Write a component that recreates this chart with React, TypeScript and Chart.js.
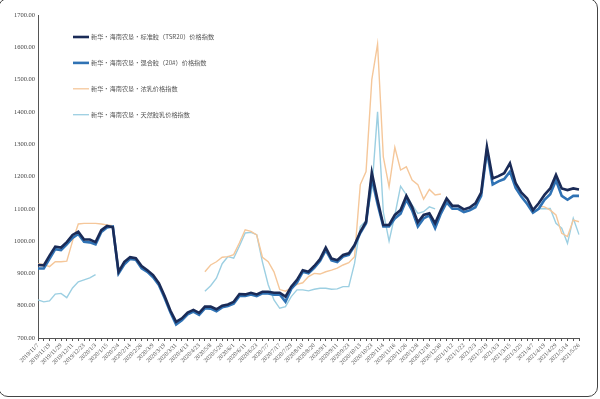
import React, { useEffect, useRef } from 'react';
import { Chart, registerables } from 'chart.js';

Chart.register(...registerables);

// Tick labels (every 8 trading days)
const tickDates: string[] = [
  '2019/11/7', '2019/11/19', '2019/11/29', '2019/12/11', '2019/12/23', '2020/1/3', '2020/1/15', '2020/2/4',
  '2020/2/14', '2020/2/26', '2020/3/9', '2020/3/19', '2020/3/31', '2020/4/13', '2020/4/23', '2020/5/8',
  '2020/5/20', '2020/6/1', '2020/6/11', '2020/6/23', '2020/7/7', '2020/7/17', '2020/7/29', '2020/8/10',
  '2020/8/20', '2020/9/1', '2020/9/11', '2020/9/23', '2020/10/13', '2020/10/23', '2020/11/4', '2020/11/16',
  '2020/11/26', '2020/12/8', '2020/12/18', '2020/12/30', '2021/1/12', '2021/1/22', '2021/2/3', '2021/2/19',
  '2021/3/3', '2021/3/15', '2021/3/25', '2021/4/7', '2021/4/19', '2021/4/29', '2021/5/14', '2021/5/26',
];

const seriesNames: string[] = [
  '新华·海南农垦·标准胶（TSR20）价格指数',
  '新华·海南农垦·混合胶（20#）价格指数',
  '新华·海南农垦·浓乳价格指数',
  '新华·海南农垦·天然胶乳价格指数',
];

// Sampled every 4 trading days (two samples per tick interval)
const tsr20: (number | null)[] = [
  926, 925, 955, 983, 980, 997, 1019, 1029, 1005, 1005,
  997, 1034, 1047, 1043, 905, 936, 950, 947, 923, 910,
  895, 870, 830, 785, 750, 761, 779, 787, 778, 797,
  797, 789, 800, 804, 812, 836, 835, 840, 835, 843,
  843, 840, 840, 828, 859, 880, 910, 905, 923, 944,
  980, 946, 941, 957, 962, 988, 1029, 1060, 1212, 1127,
  1050, 1050, 1081, 1096, 1140, 1106, 1058, 1081, 1086, 1055,
  1096, 1132, 1109, 1109, 1098, 1104, 1117, 1150, 1292, 1194,
  1201, 1210, 1241, 1179, 1150, 1132, 1096, 1117, 1143, 1163,
  1205, 1163, 1158, 1163, 1160,
];

const mix20: (number | null)[] = [
  915, 915, 945, 975, 972, 990, 1010, 1022, 998, 996,
  990, 1028, 1042, 1045, 900, 928, 945, 942, 916, 905,
  888, 864, 824, 780, 742, 755, 773, 782, 772, 792,
  791, 783, 795, 799, 806, 830, 830, 835, 830, 838,
  838, 834, 835, 812, 852, 872, 905, 900, 917, 938,
  972, 940, 935, 952, 957, 985, 1025, 1055, 1195, 1115,
  1045, 1045, 1070, 1085, 1128, 1095, 1045, 1070, 1080, 1040,
  1085, 1120, 1100, 1100, 1090, 1095, 1105, 1140, 1280, 1175,
  1185, 1192, 1215, 1165, 1137, 1115, 1088, 1100, 1128, 1145,
  1188, 1140, 1128, 1140, 1140,
];

const latex: (number | null)[] = [
  930, 928, 921, 936, 936, 938, 1000, 1053, 1055, 1055,
  1055, 1053, 1050, 1048, null, null, null, null, null, null,
  null, null, null, null, null, null, null, null, null, 905,
  926, 936, 950, 952, 958, 995, 1035, 1030, 1019, 950,
  936, 905, 850, 845, 855, 866, 871, 890, 900, 898,
  905, 910, 916, 926, 933, 952, 1175, 1215, 1500, 1610,
  1261, 1168, 1290, 1220, 1230, 1189, 1175, 1130, 1160, 1143,
  1146, null, null, null, null, null, null, null, null, null,
  null, null, null, null, null, null, null, 1108, 1106, 1096,
  1081, 1024, 1014, 1065, 1060,
];

const natLatex: (number | null)[] = [
  818, 812, 815, 836, 838, 825, 855, 874, 880, 886,
  896, null, null, null, null, null, null, null, null, null,
  null, null, null, null, null, null, null, null, null, 845,
  862, 885, 930, 952, 947, 985, 1025, 1027, 1020, 935,
  865, 818, 792, 797, 828, 849, 849, 846, 851, 854,
  854, 851, 852, 859, 859, 931, 1045, 1063, 1158, 1400,
  1090, 1000, 1080, 1170, 1143, 1112, 1086, 1091, 1106, 1100,
  null, null, null, null, null, null, null, null, null, null,
  null, null, null, null, null, null, null, 1100, 1100, 1101,
  1055, 1040, 993, 1071, 1020,
];

const yMin = 700;
const yMax = 1700;
const yStep = 100;

const colors = ['#1a2b57', '#2f72b4', '#f5c79a', '#9ccfe2'];
const widths = [2.6, 2.6, 1.4, 1.4];

// categories: tick date followed by an intermediate sample
const categories: string[] = [];
tickDates.forEach((d, i) => {
  categories.push(d);
  if (i < tickDates.length - 1) categories.push('');
});

const legendPlugin = {
  id: 'insideLegend',
  afterDraw(chart: any) {
    const { ctx, chartArea } = chart;
    ctx.save();
    chart.data.datasets.forEach((ds: any, i: number) => {
      const y = chartArea.top + 22 + i * 25.9;
      const x0 = chartArea.left + 35;
      ctx.strokeStyle = ds.borderColor;
      ctx.lineWidth = i < 2 ? 2.6 : 1.3;
      ctx.beginPath();
      ctx.moveTo(x0, y);
      ctx.lineTo(x0 + 16, y);
      ctx.stroke();
      ctx.fillStyle = '#555';
      ctx.font = '6.2px "Noto Sans CJK SC"';
      ctx.textBaseline = 'middle';
      ctx.textAlign = 'left';
      ctx.fillText(ds.label, x0 + 18, y);
    });
    ctx.restore();
  },
};

export default function App() {
  const canvasRef = useRef<HTMLCanvasElement | null>(null);

  useEffect(() => {
    document.body.style.margin = '0';
    const canvas = canvasRef.current;
    if (!canvas) return;
    const series = [tsr20, mix20, latex, natLatex];
    const chart = new Chart(canvas, {
      type: 'line',
      data: {
        labels: categories,
        datasets: series.map((d, i) => ({
          label: seriesNames[i],
          data: d,
          borderColor: colors[i],
          backgroundColor: colors[i],
          borderWidth: widths[i],
          pointRadius: 0,
          tension: 0,
          spanGaps: false,
          fill: false,
        })),
      },
      options: {
        animation: false,
        responsive: false,
        maintainAspectRatio: false,
        layout: { padding: { left: 0, right: 21, top: 15, bottom: 0 } },
        plugins: {
          legend: { display: false },
          tooltip: { enabled: false },
        },
        scales: {
          x: {
            type: 'category',
            offset: false,
            border: { display: true, color: '#555', width: 1 },
            grid: {
              display: true,
              drawOnChartArea: false,
              drawTicks: true,
              tickLength: 3,
              color: '#555',
            },
            ticks: {
              autoSkip: false,
              minRotation: 45,
              maxRotation: 45,
              padding: 1,
              color: '#555',
              font: { family: 'Liberation Serif', size: 6 },
              callback: (_v: any, idx: number) => categories[idx],
            },
            afterFit: (scale: any) => {
              scale.height = 61;
            },
          },
          y: {
            min: yMin,
            max: yMax,
            border: { display: true, color: '#555', width: 1 },
            grid: { display: true, drawOnChartArea: false, drawTicks: false },
            ticks: {
              stepSize: yStep,
              padding: 3,
              color: '#444',
              font: { family: 'Liberation Serif', size: 6.5 },
              callback: (v: any) => Number(v).toFixed(2),
            },
            afterFit: (scale: any) => {
              scale.width = 38;
            },
          },
        },
      },
      plugins: [legendPlugin],
    });
    return () => chart.destroy();
  }, []);

  return (
    <div style={{ position: 'fixed', left: 0, top: 0, width: 600, height: 399, background: '#fff' }}>
      <canvas ref={canvasRef} width={600} height={399} style={{ display: 'block', width: 600, height: 399 }} />
      <div
        style={{
          position: 'absolute',
          left: -2,
          top: -2,
          width: 600,
          height: 399,
          boxSizing: 'border-box',
          border: '1.5px solid #444',
          borderRadius: 10,
          pointerEvents: 'none',
        }}
      />
    </div>
  );
}
